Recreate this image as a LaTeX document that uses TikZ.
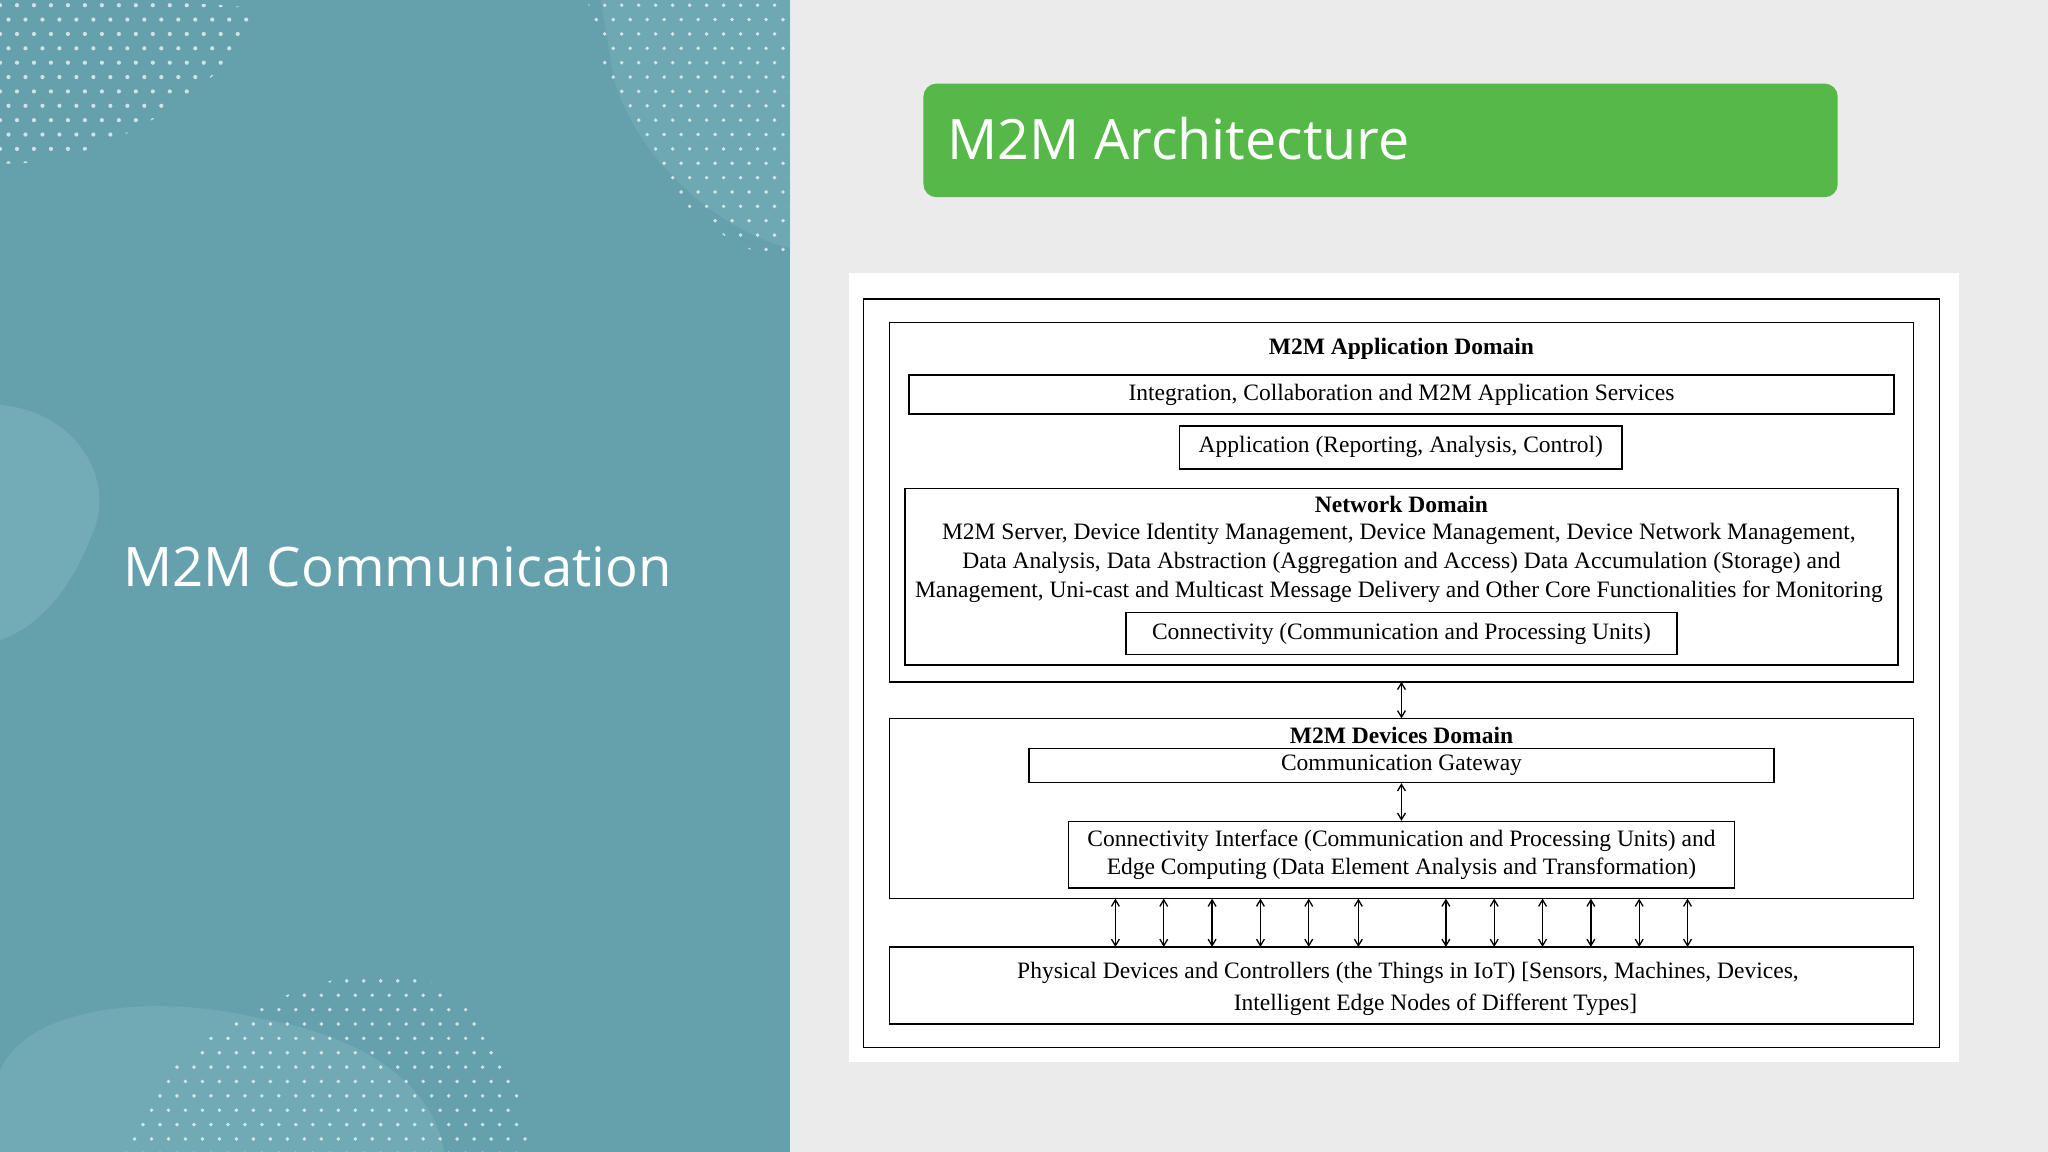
\documentclass[tikz,border=0pt]{standalone}
\usepackage{fontspec}
\setmainfont{Liberation Serif}
\newfontfamily\titlefont{Open Sans}
\usetikzlibrary{arrows.meta}
\definecolor{teal}{HTML}{65A1AD}
\definecolor{teallight}{HTML}{7DB3BD}
\definecolor{bggray}{HTML}{EBEBEB}
\definecolor{titlegreen}{HTML}{56B848}
\tikzset{
  box/.style={draw=black, line width=0.6pt},
  txt/.style={font=\fontsize{9pt}{11pt}\selectfont, inner sep=0pt},
  btxt/.style={font=\fontsize{9pt}{11pt}\selectfont\bfseries, inner sep=0pt},
  biarrow/.style={{Straight Barb[length=2.5pt,width=3pt]}-{Straight Barb[length=2.5pt,width=3pt]}, line width=0.5pt},
  dot/.style={fill=white, opacity=0.7}
}
\begin{document}
\begin{tikzpicture}[x=0.5pt,y=-0.5pt]
\useasboundingbox (0,0) rectangle (1568,882);
% backgrounds
\fill[bggray] (0,0) rectangle (1568,882);
\fill[teal] (0,0) rectangle (605,882);
% decorative blobs
\fill[teallight,opacity=0.6] (0,310) .. controls (60,315) and (90,370) .. (70,410) .. controls (55,450) and (30,480) .. (0,490) -- cycle;
\fill[teallight,opacity=0.5] (0,882) -- (0,820) .. controls (20,770) and (120,760) .. (200,780) .. controls (260,790) and (330,820) .. (340,882) -- cycle;
\fill[teallight,opacity=0.4] (460,0) -- (605,0) -- (605,190) .. controls (560,180) and (490,130) .. (470,60) -- cycle;
% dot patterns
\begin{scope}
\clip (0,0) .. controls (0,0) and (210,0) .. (200,10) .. controls (180,60) and (80,130) .. (0,125) -- cycle;
\foreach \i in {0,...,20} \foreach \j in {0,...,11}
  \fill[dot] ({\i*13 + mod(\j,2)*6.5},{\j*11+4}) circle (1.6);
\end{scope}
\begin{scope}
\clip (450,0) -- (605,0) -- (605,200) .. controls (540,190) and (470,120) .. (450,0) -- cycle;
\foreach \i in {0,...,12} \foreach \j in {0,...,18}
  \fill[dot] ({450+\i*13 + mod(\j,2)*6.5},{\j*11+4}) circle (1.5);
\end{scope}
\begin{scope}
\clip (90,882) .. controls (120,800) and (230,740) .. (310,745) .. controls (370,760) and (400,820) .. (405,882) -- cycle;
\foreach \i in {0,...,25} \foreach \j in {0,...,13}
  \fill[dot] ({90+\i*13 + mod(\j,2)*6.5},{740+\j*11}) circle (1.5);
\end{scope}
% left title
\node[anchor=west, text=white, font=\titlefont\fontsize{20.85pt}{26pt}\selectfont, inner sep=0pt] (lt) at (94,434) {M2M Communication};
% green title
\node[fill=titlegreen, rounded corners=5pt, minimum width=350pt, minimum height=43.5pt, inner sep=0pt] (gt) at (1057,107.5) {};
\node[anchor=west, text=white, font=\titlefont\fontsize{21.3pt}{24pt}\selectfont, inner sep=0pt] (gtt) at (725,106) {M2M Architecture};
% white panel
\fill[white] (650,209) rectangle (1500,813);
\draw[box] (661,229) rectangle (1485,802);
% application domain
\draw[box] (681,247) rectangle (1465,522);
\node[btxt] (apd) at (1073,267) {M2M Application Domain};
\node[box, txt, minimum width=377pt, minimum height=15pt] (ics) at (1073,302) {Integration, Collaboration and M2M Application Services};
\node[box, txt, minimum width=169.5pt, minimum height=16.5pt] (app) at (1072.5,342.5) {Application (Reporting, Analysis, Control)};
\draw[box] (693,374) rectangle (1453,509);
\node[btxt] (nd) at (1073,386) {Network Domain};
\node[txt] (n1) at (1071,409) {M2M Server, Device Identity Management, Device Management, Device Network Management,};
\node[txt] (n2) at (1073,431) {Data Analysis, Data Abstraction (Aggregation and Access) Data Accumulation (Storage) and};
\node[txt] (n3) at (1071,453) {Management, Uni-cast and Multicast Message Delivery and Other Core Functionalities for Monitoring};
\node[box, txt, minimum width=211pt, minimum height=16pt] (con) at (1073,485) {Connectivity (Communication and Processing Units)};
% devices domain
\draw[box] (681,550) rectangle (1465,688);
\coordinate (appb) at (1073,522);
\coordinate (devt) at (1073,550);
\draw[biarrow] (appb) -- (devt);
\node[btxt] (dd) at (1073,563) {M2M Devices Domain};
\node[box, txt, minimum width=285pt, minimum height=13pt] (gw) at (1073,586) {Communication Gateway};
\node[box, txt, minimum width=255pt, minimum height=25.5pt, align=center] (ci) at (1073,654.5) {Connectivity Interface (Communication and Processing Units) and\\[0pt]Edge Computing (Data Element Analysis and Transformation)};
\draw[biarrow] (gw.south) -- (ci.north);
% physical
\node[box, minimum width=392pt, minimum height=29.5pt] (pd) at (1073,754.5) {};
\node[txt] (p1) at (1078,745) {Physical Devices and Controllers (the Things in IoT) [Sensors, Machines, Devices,};
\node[txt] (p2) at (1099,769) {Intelligent Edge Nodes of Different Types]};
\foreach \x in {854,891,928,965,1002,1040,1107,1144,1181,1218,1255,1292}{
  \coordinate (t\x) at (\x,688);
  \coordinate (b\x) at (\x,725);
  \draw[biarrow] (t\x) -- (b\x);
}
\end{tikzpicture}
\end{document}
